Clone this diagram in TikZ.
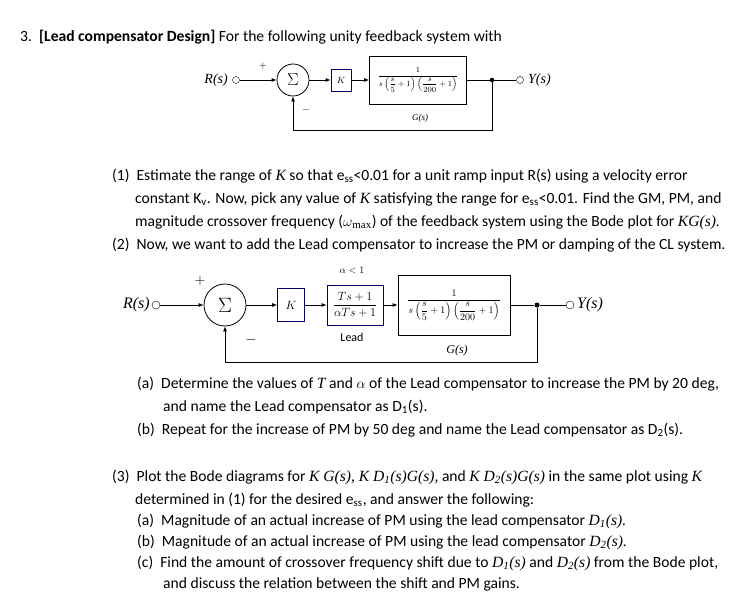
\documentclass[tikz,border=0pt]{standalone}
\usepackage{amsmath}
\usepackage{fontspec}
\setmainfont{Carlito}
\newfontfamily\tms{Liberation Serif}
\usetikzlibrary{arrows.meta}
\begin{document}
\begin{tikzpicture}[x=1pt,y=-1pt,
  txt/.style={anchor=west,inner sep=0pt,font=\fontsize{15.6}{18}\selectfont},
  blk/.style={draw,thick,inner sep=1pt},
  kb/.style={draw=blue!45!black,thick,minimum width=22pt,minimum height=22pt,inner sep=1pt},
  oc/.style={circle,draw,inner sep=0pt,minimum size=7pt},
  sm/.style={circle,draw,thick,inner sep=0pt},
  dot/.style={circle,fill,inner sep=0pt,minimum size=4.5pt},
  ar/.style={-{Latex[length=5pt,width=4pt]},thick},
  ln/.style={thick}]
\useasboundingbox (0,0) rectangle (754,612);
% Title
\node[txt] (t0) at (20,37) {3.\ \ \textbf{[Lead compensator Design]} For the following unity feedback system with};
% Diagram 1
\node[anchor=east,inner sep=0pt,font=\tms\itshape\fontsize{14}{16}\selectfont] (r1) at (228,80) {R(s)};
\node[oc] (o1) at (236,80) {};
\node[sm,minimum size=32pt] (s1) at (293,80) {\LARGE$\Sigma$};
\node[kb,minimum width=20pt,minimum height=22pt] (k1) at (341,80) {\small$K$};
\node[blk,minimum width=97pt,minimum height=48pt] (g1) at (418,80) {\fontsize{8}{9}\selectfont$\dfrac{1}{s\left(\dfrac{s}{5}+1\right)\left(\dfrac{s}{200}+1\right)}$};
\node[font=\tms\itshape\small] (gl1) at (420,118) {G(s)};
\node[dot] (d1) at (492,80) {};
\node[oc] (y1) at (520,80) {};
\node[anchor=west,inner sep=0pt,font=\tms\itshape\fontsize{14}{16}\selectfont] (yt1) at (528,80) {Y(s)};
\coordinate (f1) at (492,130);
\coordinate (f1b) at (293,130);
\node (p1) at (263,66) {$+$};
\node (m1) at (306,110) {$-$};
\draw[ar] (o1) -- (s1);
\draw[ar] (s1) -- (k1);
\draw[ar] (k1) -- (g1);
\draw[ln] (g1) -- (d1);
\draw[ln] (d1) -- (y1);
\draw[ar] (d1) -- (f1) -- (f1b) -- (s1);
% Text block 1
\node[txt] (a1) at (112,176) {(1)\ \ Estimate the range of {\tms\itshape K} so that e\textsubscript{ss}<0.01 for a unit ramp input R(s) using a velocity error};
\node[txt] (a2) at (135,199) {constant K\textsubscript{v}. Now, pick any value of {\tms\itshape K} satisfying the range for e\textsubscript{ss}<0.01. Find the GM, PM, and};
\node[txt] (a3) at (135,222) {magnitude crossover frequency ({\tms$\omega$\textsubscript{max}}) of the feedback system using the Bode plot for {\tms\itshape KG(s).}};
\node[txt] (a4) at (112,245) {(2)\ \ Now, we want to add the Lead compensator to increase the PM or damping of the CL system.};
% Diagram 2
\node[anchor=east,inner sep=0pt,font=\tms\itshape\fontsize{16}{18}\selectfont] (r2) at (150,305) {R(s)};
\node[oc,minimum size=8pt] (o2) at (156,305) {};
\node[sm,minimum size=42pt] (s2) at (225,305) {\huge$\Sigma$};
\node[kb,minimum width=27pt,minimum height=33pt] (k2) at (291,305) {\large$K$};
\node[kb,minimum width=56pt,minimum height=40pt] (l2) at (355,305) {\fontsize{11.5}{13}\selectfont$\dfrac{Ts+1}{\alpha Ts+1}$};
\node[blk,minimum width=112pt,minimum height=60pt] (g2) at (454,305) {\fontsize{10}{12}\selectfont$\dfrac{1}{s\left(\dfrac{s}{5}+1\right)\left(\dfrac{s}{200}+1\right)}$};
\node[font=\normalsize] (alp) at (352,270) {$\alpha<1$};
\node[font=\fontsize{12}{14}\selectfont] (ld) at (352,337) {Lead};
\node[font=\tms\itshape\large] (gl2) at (457,351) {G(s)};
\node[dot,minimum size=5pt] (d2) at (537,305) {};
\node[oc,minimum size=8pt] (y2) at (570,305) {};
\node[anchor=west,inner sep=0pt,font=\tms\itshape\fontsize{16}{18}\selectfont] (yt2) at (577,305) {Y(s)};
\coordinate (f2) at (537,362);
\coordinate (f2b) at (225,362);
\node (p2) at (200,281) {\Large$+$};
\node (m2) at (251,340) {\Large$-$};
\draw[ar] (o2) -- (s2);
\draw[ar] (s2) -- (k2);
\draw[ar] (k2) -- (l2);
\draw[ar] (l2) -- (g2);
\draw[ln] (g2) -- (d2);
\draw[ln] (d2) -- (y2);
\draw[ar] (d2) -- (f2) -- (f2b) -- (s2);
% Text block 2
\node[txt] (b1) at (137,384) {(a)\ \ Determine the values of {\tms\itshape T} and {\tms$\alpha$} of the Lead compensator to increase the PM by 20 deg,};
\node[txt] (b2) at (163,407) {and name the Lead compensator as D\textsubscript{1}(s).};
\node[txt] (b3) at (137,430) {(b)\ \ Repeat for the increase of PM by 50 deg and name the Lead compensator as D\textsubscript{2}(s).};
\node[txt] (c1) at (112,477) {(3)\ \ Plot the Bode diagrams for {\tms\itshape K G(s), K D\textsubscript{1}(s)G(s),} and {\tms\itshape K D\textsubscript{2}(s)G(s)} in the same plot using {\tms\itshape K}};
\node[txt] (c2) at (135,500) {determined in (1) for the desired e\textsubscript{ss}, and answer the following:};
\node[txt] (c3) at (137,521) {(a)\ \ Magnitude of an actual increase of PM using the lead compensator {\tms\itshape D\textsubscript{1}(s).}};
\node[txt] (c4) at (137,542) {(b)\ \ Magnitude of an actual increase of PM using the lead compensator {\tms\itshape D\textsubscript{2}(s).}};
\node[txt] (c5) at (137,563) {(c)\ \ Find the amount of crossover frequency shift due to {\tms\itshape D\textsubscript{1}(s)} and {\tms\itshape D\textsubscript{2}(s)} from the Bode plot,};
\node[txt] (c6) at (163,584) {and discuss the relation between the shift and PM gains.};
\end{tikzpicture}
\end{document}
